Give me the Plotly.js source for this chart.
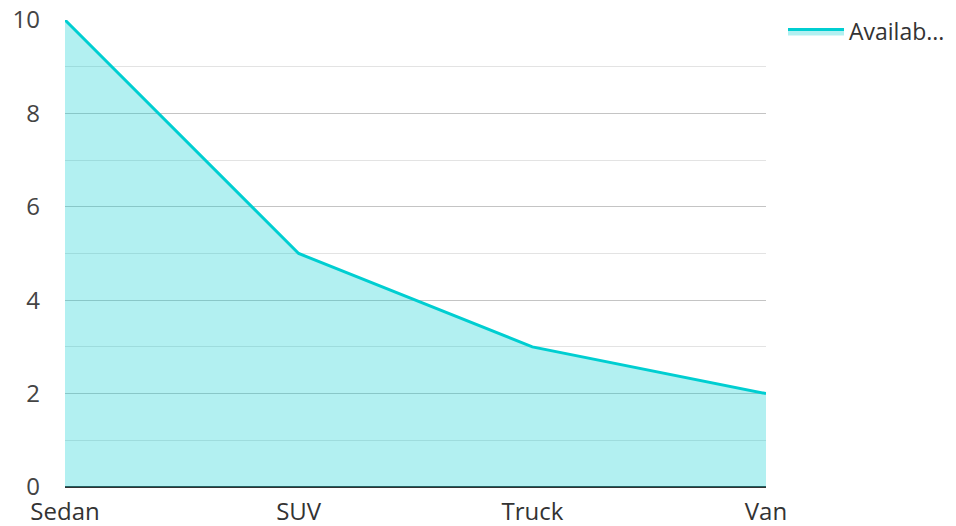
<!DOCTYPE html>
<html><head><meta charset="utf-8">
<script src="https://cdn.plot.ly/plotly-3.0.1.min.js"></script>
<style>html,body{margin:0;padding:0;background:#fff}#c{width:956px;height:526px}</style>
</head><body><div id="c"></div>
<script>
const categories = ["Sedan", "SUV", "Truck", "Van"];
const available = [10, 5, 3, 2];
const seriesName = "Availab...";
const yTicks = [0, 2, 4, 6, 8, 10];

Plotly.newPlot("c", [{
  x: categories, y: available, name: seriesName, type: "scatter", mode: "lines",
  fill: "tozeroy", fillcolor: "rgba(0,206,209,0.3)",
  line: {color: "#00CED1", width: 3}
}], {
  width: 956, height: 526,
  margin: {l: 65, r: 0, t: 10, b: 39},
  paper_bgcolor: "#fff", plot_bgcolor: "#fff",
  font: {family: "Open Sans", size: 24, color: "#444"},
  showlegend: true,
  legend: {x: 718 / 891, y: 1.0, xanchor: "left", yanchor: "top",
    itemwidth: 56, font: {size: 23, color: "#333"}},
  xaxis: {type: "category", range: [0, 3], domain: [0, 701 / 891], showgrid: false, ticks: "", ticklen: 0, ticklabelstandoff: 8,
    tickfont: {size: 24, color: "#333"}, zeroline: false, automargin: false},
  yaxis: {range: [0, 10], domain: [0, 1 - 10 / 477], tickvals: yTicks, showgrid: true, gridcolor: "#c4c4c4", gridwidth: 1,
    minor: {dtick: 1, tick0: 0, showgrid: true, gridcolor: "#e3e3e3", gridwidth: 1},
    zeroline: true, zerolinecolor: "#333", zerolinewidth: 2, ticklabelstandoff: 24,
    tickfont: {size: 24, color: "#444"}, ticks: "", automargin: false}
}, {displayModeBar: false});
</script></body></html>
